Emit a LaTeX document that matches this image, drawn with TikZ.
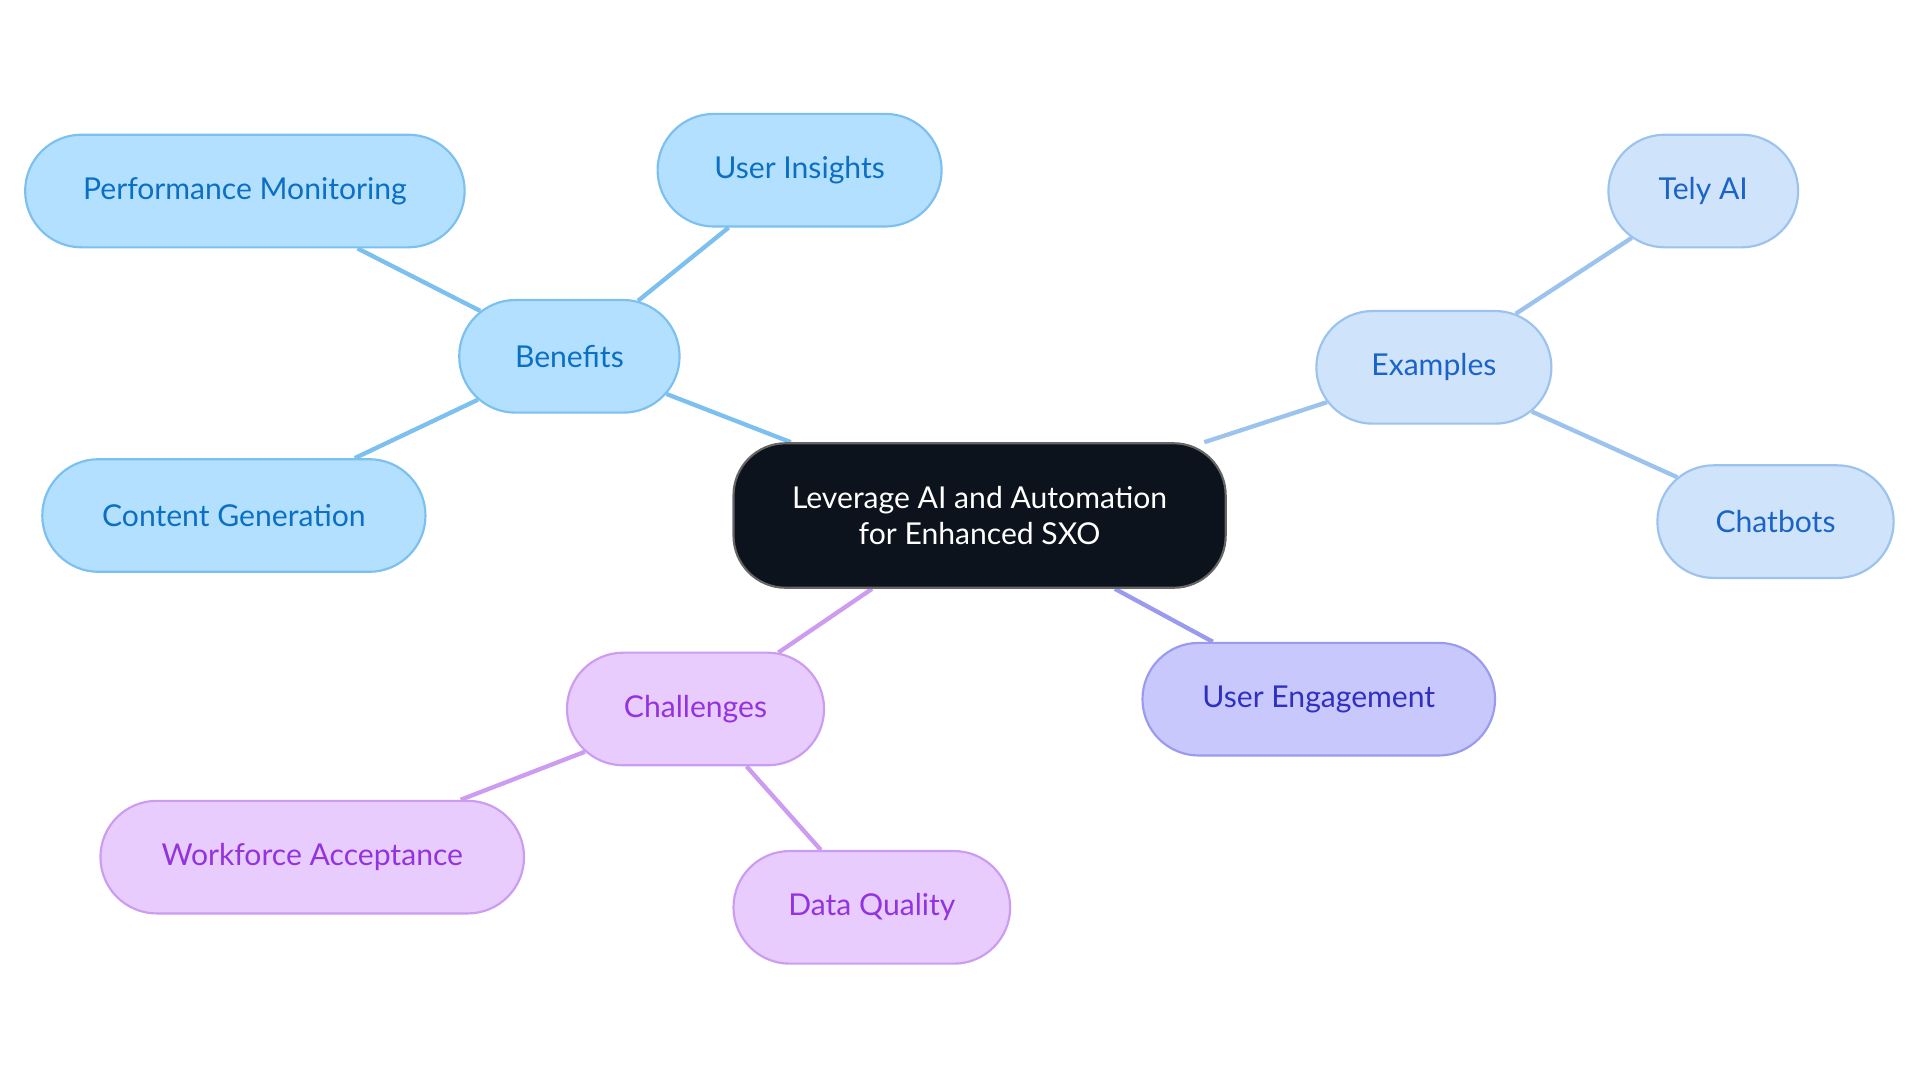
\documentclass[tikz,border=0pt]{standalone}
\usepackage{fontspec}
\setmainfont{Lato}
\usepackage{xcolor}
\usetikzlibrary{positioning,backgrounds,shapes.misc}

\definecolor{benfill}{HTML}{B3E0FF}
\definecolor{bendraw}{HTML}{7CC0EF}
\definecolor{bentext}{HTML}{0B6FC4}
\definecolor{exfill}{HTML}{CFE3FB}
\definecolor{exdraw}{HTML}{9CC2EE}
\definecolor{extext}{HTML}{1A63C7}
\definecolor{engfill}{HTML}{C8C8FC}
\definecolor{engdraw}{HTML}{9A9AEE}
\definecolor{engtext}{HTML}{3030C0}
\definecolor{chfill}{HTML}{E8CCFD}
\definecolor{chdraw}{HTML}{CC9CF0}
\definecolor{chtext}{HTML}{9333E0}
\definecolor{rootfill}{HTML}{0D131C}

\begin{document}
\begin{tikzpicture}[
    x=0.02cm, y=-0.02cm,
    box/.style = {
        rounded rectangle,
        line width=1pt,
        minimum height=1.84cm,
        align=center,
        font=\fontsize{14}{17}\selectfont,
        inner sep=0pt
    },
    root/.style    = {rectangle, rounded corners=0.85cm, line width=1pt, align=center,
                      font=\fontsize{14}{17}\selectfont, fill=rootfill, draw=black!60, text=white,
                      minimum height=2.36cm, minimum width=8.04cm},
    benefit/.style = {box, fill=benfill, draw=bendraw, text=bentext},
    example/.style = {box, fill=exfill,  draw=exdraw,  text=extext},
    engage/.style  = {box, fill=engfill, draw=engdraw, text=engtext},
    challenge/.style = {box, fill=chfill, draw=chdraw, text=chtext},
    link/.style    = {line width=2pt}
]

\useasboundingbox (0,0) rectangle (1568,884);

% Root
\node[root] (sxo) at (800,421) {Leverage AI and Automation\\for Enhanced SXO};

% Benefits branch
\node[benefit, minimum width=3.6cm]  (benefits) at (465,291) {Benefits};
\node[benefit, minimum width=4.64cm] (insights) at (653,139) {User Insights};
\node[benefit, minimum width=7.18cm] (monitor)  at (200,156) {Performance Monitoring};
\node[benefit, minimum width=6.26cm] (content)  at (191,421) {Content Generation};

% Examples branch
\node[example, minimum width=3.84cm] (examples) at (1171,300) {Examples};
\node[example, minimum width=3.1cm]  (tely)     at (1391,156) {Tely AI};
\node[example, minimum width=3.86cm] (chatbots) at (1450,426) {Chatbots};

% User engagement
\node[engage, minimum width=5.76cm] (engagement) at (1077,571) {User Engagement};

% Challenges branch
\node[challenge, minimum width=4.2cm]  (challenges) at (568,579) {Challenges};
\node[challenge, minimum width=6.92cm] (workforce)  at (255,700) {Workforce Acceptance};
\node[challenge, minimum width=4.52cm] (quality)    at (712,741) {Data Quality};

% Links
\begin{scope}[on background layer]
\draw[link, bendraw] (sxo) -- (benefits);
\draw[link, bendraw] (benefits) -- (insights);
\draw[link, bendraw] (benefits) -- (monitor);
\draw[link, bendraw] (benefits) -- (content);
\draw[link, exdraw] (sxo) -- (examples);
\draw[link, exdraw] (examples) -- (tely);
\draw[link, exdraw] (examples) -- (chatbots);
\draw[link, engdraw] (sxo) -- (engagement);
\draw[link, chdraw] (sxo) -- (challenges);
\draw[link, chdraw] (challenges) -- (workforce);
\draw[link, chdraw] (challenges) -- (quality);
\end{scope}

\end{tikzpicture}
\end{document}
